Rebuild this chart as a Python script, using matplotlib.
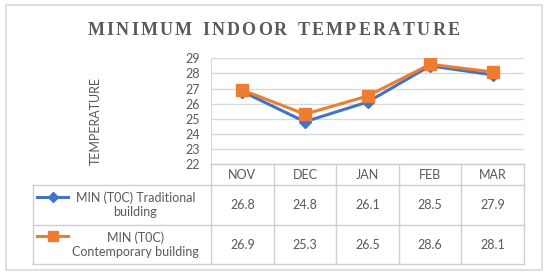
# Minimum indoor temperature - line chart with data table underneath
import matplotlib.pyplot as plt
from matplotlib.patches import Rectangle
from matplotlib.lines import Line2D

# data
months = ['NOV', 'DEC', 'JAN', 'FEB', 'MAR']
traditional = [26.8, 24.8, 26.1, 28.5, 27.9]
contemporary = [26.9, 25.3, 26.5, 28.6, 28.1]
series_names = ['MIN (T0C) Traditional\nbuilding', 'MIN (T0C)\nContemporary building']
y_ticks = [22, 23, 24, 25, 26, 27, 28, 29]

blue = '#4472C4'
orange = '#ED7D31'
grey_txt = '#595959'
grid_c = '#d9d9d9'
tab_c = '#cfcfcf'
txt_font = 'Lato'

W, H = 550, 279
fig = plt.figure(figsize=(W / 100, H / 100), dpi=100)


def px(x0, y0, x1, y1):
    # pixel box (from top-left) -> figure rect
    return [x0 / W, 1 - y1 / H, (x1 - x0) / W, (y1 - y0) / H]


# outer frame
fig.patches.append(Rectangle((5.7 / W, 1 - 270 / H), (541.7 - 5.7) / W, (270 - 5) / H,
                             transform=fig.transFigure, fill=False, edgecolor=grid_c, lw=1.2))

# title with wide letter spacing
title = 'MINIMUM INDOOR TEMPERATURE'
tprops = dict(family='Liberation Serif', weight='bold', size=13, color=grey_txt)
renderer = fig.canvas.get_renderer()
widths = []
for ch in title:
    t = fig.text(0, 0, ch if ch != ' ' else 'I', **tprops)
    w = t.get_window_extent(renderer).width
    t.remove()
    widths.append(w if ch != ' ' else w * 0.9)
target = 372.0
gap = (target - sum(widths)) / (len(title) - 1)
xpos = 273.5 - target / 2
for ch, w in zip(title, widths):
    if ch != ' ':
        fig.text(xpos / W, 1 - 34.7 / H, ch, ha='left', va='baseline', **tprops)
    xpos += w + gap

# line plot
ax = fig.add_axes(px(211, 58.3, 524, 164))
x = list(range(len(months)))
ax.plot(x, traditional, color=blue, lw=2.2, marker='D', ms=6.5, zorder=3)
ax.plot(x, contemporary, color=orange, lw=2.2, marker='s', ms=8, zorder=4)
ax.set_xlim(-0.5, len(months) - 0.5)
ax.set_ylim(22, 29)
ax.set_yticks(y_ticks)
ax.set_xticks([])
ax.grid(axis='y', color=grid_c, lw=1)
ax.set_axisbelow(True)
for s in ['top', 'right', 'bottom']:
    ax.spines[s].set_visible(False)
ax.spines['left'].set_color(grid_c)
ax.tick_params(axis='y', length=0, pad=8, labelsize=9, labelcolor=grey_txt)
for lab in ax.get_yticklabels():
    lab.set_fontfamily(txt_font)
ax.patch.set_alpha(0)

fig.text(96 / W, 1 - 121 / H, 'TEMPERATURE', rotation=90, ha='center', va='center',
         family=txt_font, size=9, color=grey_txt)

# data table
tab = fig.add_axes(px(33, 164, 524, 264))
col_w = (524 - 211) / len(months)
leg_w = (211 - 33) / col_w
x_left = -0.5 - leg_w
tab.set_xlim(x_left, len(months) - 0.5)
tab.set_ylim(100, 0)
tab.axis('off')

row_edges = [0, 21, 61, 100]
# horizontal lines
tab.plot([-0.5, len(months) - 0.5], [0, 0], color=tab_c, lw=1, clip_on=False)
for yy in row_edges[1:]:
    tab.plot([x_left, len(months) - 0.5], [yy, yy], color=tab_c, lw=1, clip_on=False)
# vertical lines
for i in range(len(months) + 1):
    tab.plot([i - 0.5, i - 0.5], [0, 100], color=tab_c, lw=1, clip_on=False)
tab.plot([x_left, x_left], [21, 100], color=tab_c, lw=1, clip_on=False)

tkw = dict(family=txt_font, size=9, color=grey_txt, ha='center', va='center')
for i, m in enumerate(months):
    tab.text(i, 11, m, **tkw)
    tab.text(i, 41, f'{traditional[i]:.1f}', **tkw)
    tab.text(i, 81, f'{contemporary[i]:.1f}', **tkw)

# legend keys inside the table
key_x0 = x_left + (37 - 33) / col_w
key_x1 = x_left + (68 - 33) / col_w
key_xm = (key_x0 + key_x1) / 2
tab.add_line(Line2D([key_x0, key_x1], [33, 33], color=blue, lw=2.2, clip_on=False))
tab.add_line(Line2D([key_xm], [33], color=blue, marker='D', ms=5.5, clip_on=False))
tab.add_line(Line2D([key_x0, key_x1], [72, 72], color=orange, lw=2.2, clip_on=False))
tab.add_line(Line2D([key_xm], [72], color=orange, marker='s', ms=7, clip_on=False))

name_x = x_left + (135.5 - 33) / col_w
tab.text(name_x, 40.5, series_names[0], linespacing=1.25, **tkw)
tab.text(name_x, 80.5, series_names[1], linespacing=1.25, **tkw)

fig.savefig('out.png', dpi=100)
